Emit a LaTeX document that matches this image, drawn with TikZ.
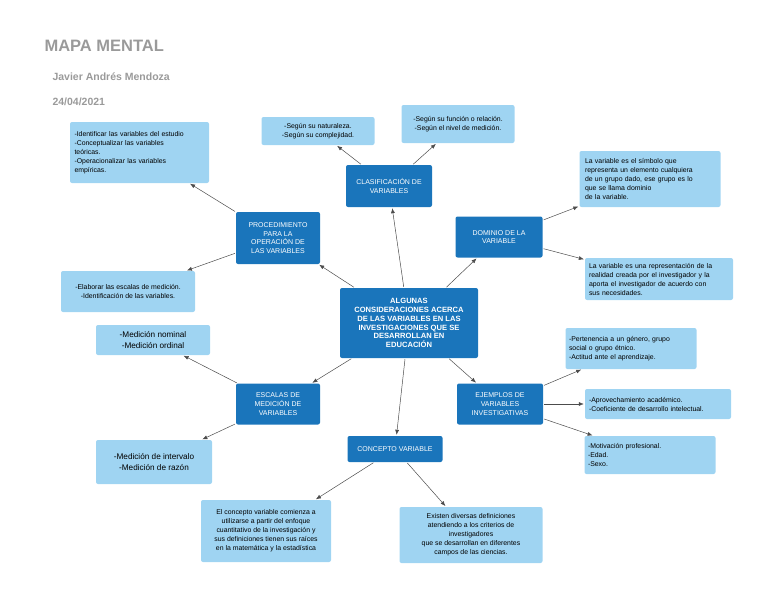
\documentclass[tikz,border=0pt]{standalone}
\usepackage{fontspec}
\setmainfont{Liberation Sans}
\usetikzlibrary{positioning,arrows.meta}
\definecolor{deepblue}{HTML}{1A75BB}
\definecolor{paleblue}{HTML}{9FD4F2}
\definecolor{titlegray}{HTML}{9A9A9A}

\begin{document}
\begin{tikzpicture}[
    x=1pt, y=-1pt,
    topic/.style={rectangle, rounded corners=2pt, fill=deepblue, text=white, align=center, inner sep=2pt, font=\fontsize{7}{8.6}\selectfont},
    note/.style={rectangle, rounded corners=2pt, fill=paleblue, text=black, inner sep=3pt, font=\fontsize{6.9}{9}\selectfont},
    arrow/.style={-{Latex[length=5pt,width=4pt]}, draw=black!70, line width=0.5pt, shorten >=1pt, shorten <=1pt},
    head/.style={anchor=west, text=titlegray, font=\bfseries\fontsize{10.5}{12}\selectfont},
]
\useasboundingbox (0,0) rectangle (768,594);

% Header
\node[head, font=\bfseries\fontsize{16.5}{18}\selectfont] (title) at (41,46) {MAPA MENTAL};
\node[head] (author) at (49,77) {Javier Andrés Mendoza};
\node[head] (date) at (49,102) {24/04/2021};

% Center
\node[topic, minimum width=138, minimum height=70, font=\bfseries\fontsize{7.6}{8.8}\selectfont] (core) at (409,323) {ALGUNAS\\CONSIDERACIONES ACERCA\\DE LAS VARIABLES EN LAS\\INVESTIGACIONES QUE SE\\DESARROLLAN EN\\EDUCACIÓN};

% Topics
\node[topic, minimum width=86, minimum height=42] (clasif) at (389,186) {CLASIFICACIÓN DE\\VARIABLES};
\node[topic, minimum width=84, minimum height=52] (proced) at (278,238) {PROCEDIMIENTO\\PARA LA\\OPERACIÓN DE\\LAS VARIABLES};
\node[topic, minimum width=87, minimum height=41] (dominio) at (499,237) {DOMINIO DE LA\\VARIABLE};
\node[topic, minimum width=86, minimum height=41] (ejemplos) at (500,404) {EJEMPLOS DE\\VARIABLES\\INVESTIGATIVAS};
\node[topic, minimum width=84, minimum height=41] (escalas) at (278,404) {ESCALAS DE\\MEDICIÓN DE\\VARIABLES};
\node[topic, minimum width=95, minimum height=26] (concepto) at (395,449) {CONCEPTO VARIABLE};

% Notes
\node[note, minimum width=139, minimum height=61, text width=130, align=left] (pasos) at (139.5,152.5) {-Identificar las variables del estudio\\-Conceptualizar las variables\\teóricas.\\-Operacionalizar las variables\\empíricas.};
\node[note, minimum width=113, minimum height=28, align=center] (natur) at (318,131) {-Según su naturaleza.\\-Según su complejidad.};
\node[note, minimum width=113, minimum height=38, align=center] (funcion) at (458,124) {-Según su función o relación.\\-Según el nivel de medición.};
\node[note, minimum width=141, minimum height=56, text width=130, align=left] (simbolo) at (650,179) {La variable es el símbolo que\\representa un elemento cualquiera\\de un grupo dado, ese grupo es lo\\que se llama dominio\\de la variable.};
\node[note, minimum width=148, minimum height=42, text width=140, align=left] (realidad) at (659,279) {La variable es una representación de la\\realidad creada por el investigador y la\\aporta el investigador de acuerdo con\\sus necesidades.};
\node[note, minimum width=134, minimum height=41, align=center] (elaborar) at (128,291.5) {-Elaborar las escalas de medición.\\-Identificación de las variables.};
\node[note, minimum width=114, minimum height=30, align=center, font=\fontsize{8.2}{10.5}\selectfont] (nominal) at (153,340) {-Medición nominal\\-Medición ordinal};
\node[note, minimum width=131, minimum height=41, text width=124, align=left] (genero) at (631,348.5) {-Pertenencia a un género, grupo\\social o grupo étnico.\\-Actitud ante el aprendizaje.};
\node[note, minimum width=146, minimum height=30, text width=138, align=left] (academico) at (658,404) {-Aprovechamiento académico.\\-Coeficiente de desarrollo intelectual.};
\node[note, minimum width=131, minimum height=38, text width=124, align=left] (motivacion) at (650,455) {-Motivación profesional.\\-Edad.\\-Sexo.};
\node[note, minimum width=116, minimum height=44, align=center, font=\fontsize{8.2}{10.5}\selectfont] (intervalo) at (154,462) {-Medición de intervalo\\-Medición de razón};
\node[note, minimum width=130, minimum height=62, align=center] (enfoque) at (266,531) {El concepto variable comienza a\\utilizarse a partir del enfoque\\cuantitativo de la investigación y\\sus definiciones tienen sus raíces\\en la matemática y la estadística};
\node[note, minimum width=143, minimum height=56, align=center] (criterios) at (471,535) {Existen diversas definiciones\\atendiendo a los criterios de\\investigadores\\que se desarrollan en diferentes\\campos de las ciencias.};

% Arrows - center to topics
\draw[arrow] (core) -- (clasif);
\draw[arrow] (core) -- (proced);
\draw[arrow] (core) -- (dominio);
\draw[arrow] (core) -- (ejemplos);
\draw[arrow] (core) -- (escalas);
\draw[arrow] (core) -- (concepto);

% Arrows - topics to notes
\draw[arrow] (clasif) -- (natur);
\draw[arrow] (clasif) -- (funcion);
\draw[arrow] (proced) -- (pasos);
\draw[arrow] (proced) -- (elaborar);
\draw[arrow] (dominio) -- (simbolo);
\draw[arrow] (dominio) -- (realidad);
\draw[arrow] (escalas) -- (nominal);
\draw[arrow] (escalas) -- (intervalo);
\draw[arrow] (ejemplos) -- (genero);
\draw[arrow] (ejemplos) -- (academico);
\draw[arrow] (ejemplos) -- (motivacion);
\draw[arrow] (concepto) -- (enfoque);
\draw[arrow] (concepto) -- (criterios);

\end{tikzpicture}
\end{document}
